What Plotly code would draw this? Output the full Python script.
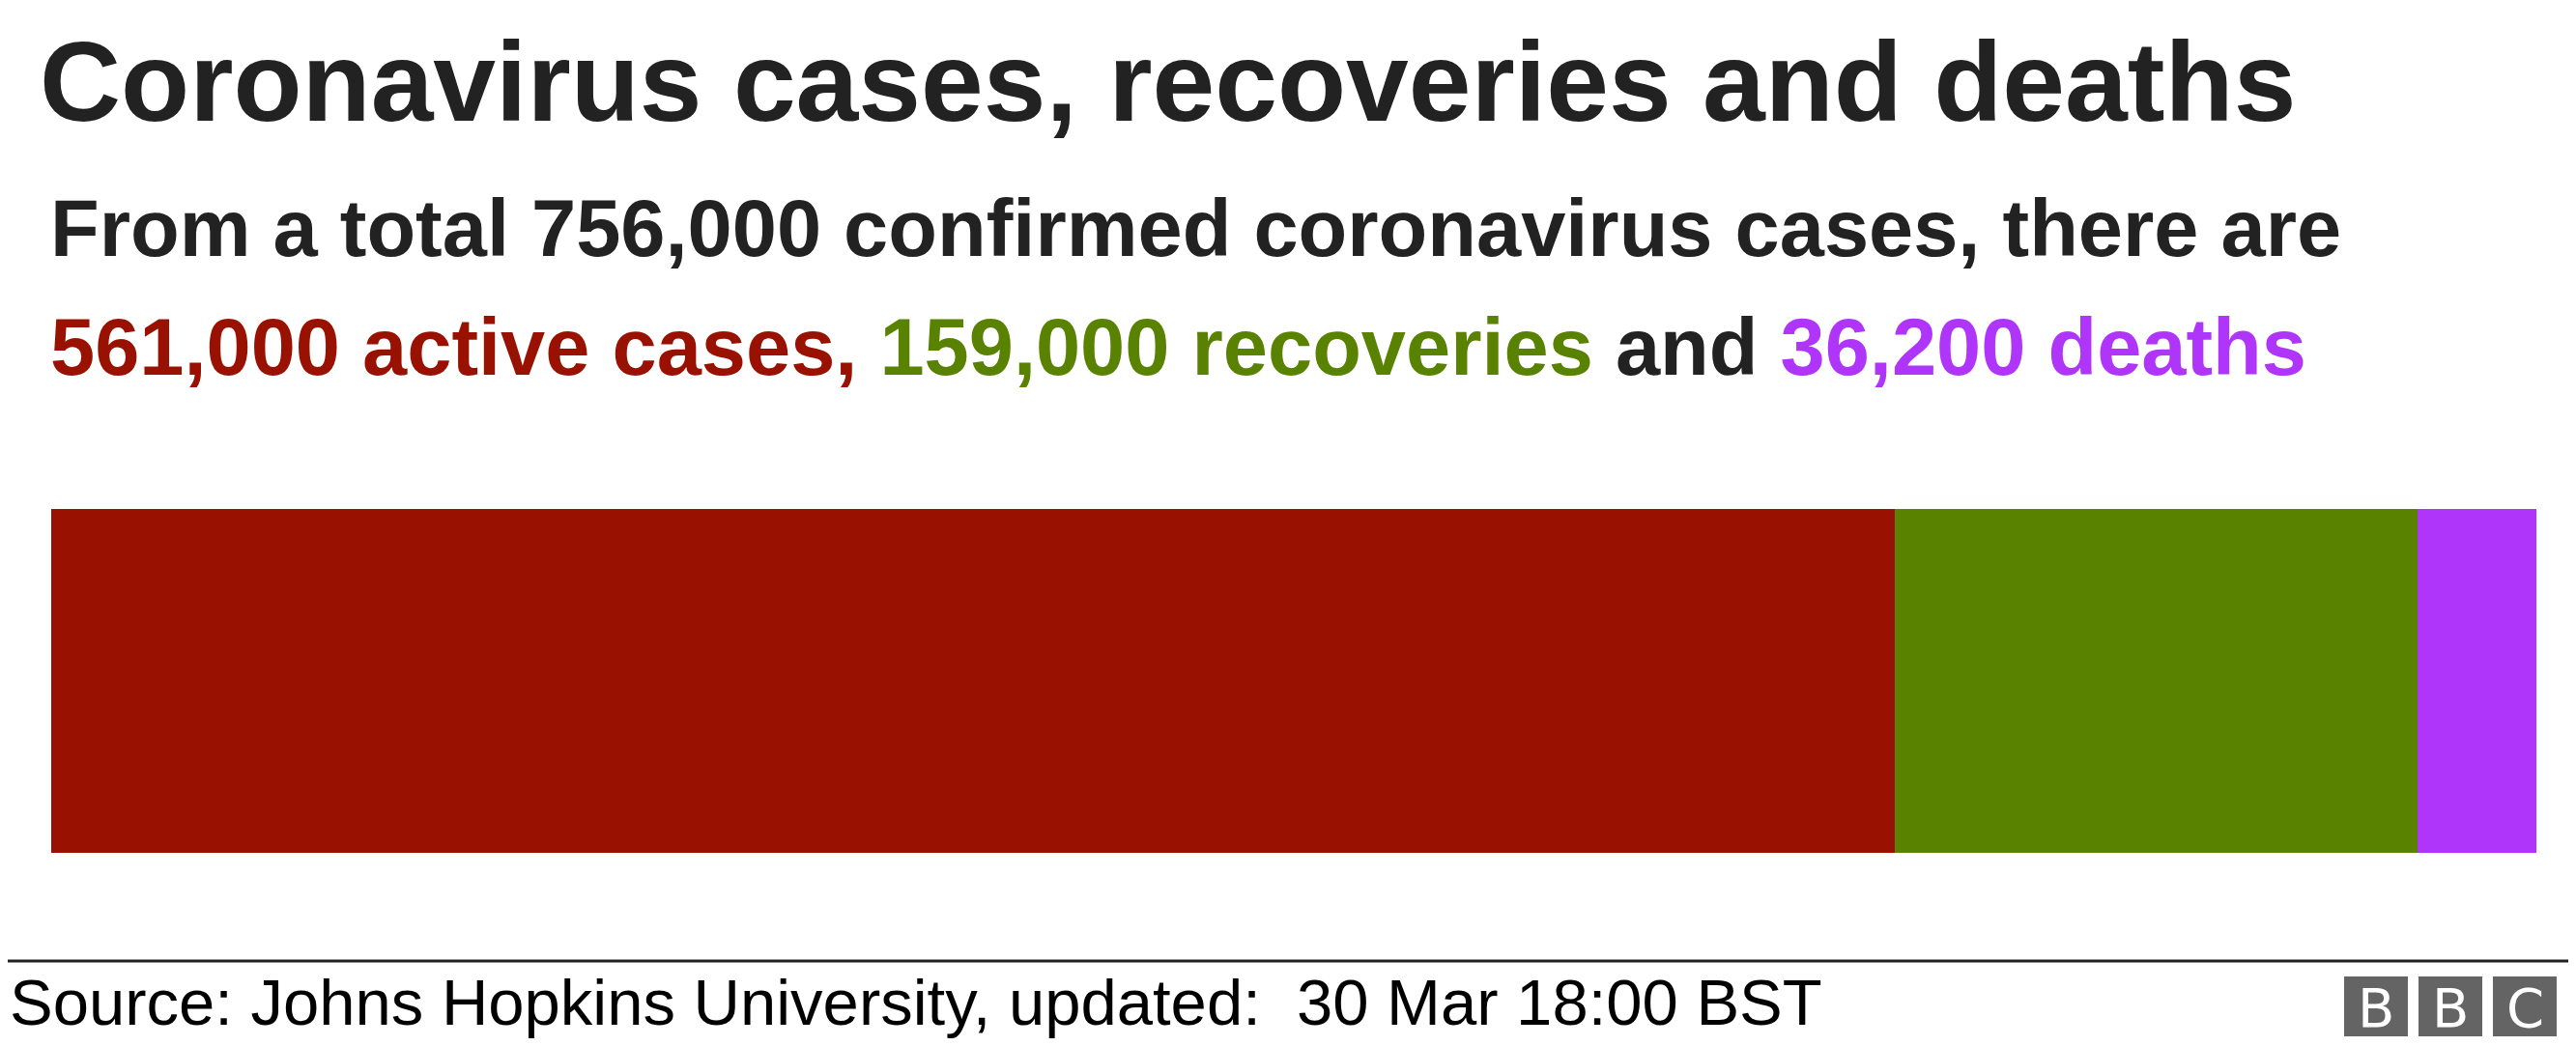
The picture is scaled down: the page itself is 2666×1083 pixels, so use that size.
import plotly.graph_objects as go

W, H = 2666, 1083
# the page body adds an 8px margin, so positions are shifted back by it
OFF = 8

categories = ["Active cases", "Recoveries", "Deaths"]
values = [561000, 159000, 36200]
colors = ["#991100", "#588200", "#b035fa"]

title = "Coronavirus cases, recoveries and deaths"
total_text = "756,000"
value_text = ["561,000", "159,000", "36,200"]
source = "Source: Johns Hopkins University, updated:  30 Mar 18:00 BST"
logo_letters = ["B", "B", "C"]

FONT = "Liberation Sans"
DARK = "#222222"


def px(x):
    return (x - OFF) / W


def py(y):
    return 1 - (y - OFF) / H


fig = go.Figure()
for cat, val, col in zip(categories, values, colors):
    fig.add_trace(
        go.Bar(
            x=[val],
            y=[""],
            orientation="h",
            name=cat,
            marker={"color": col, "line": {"width": 0}},
            width=1,
            hoverinfo="skip",
        )
    )

line2 = (
    f'<span style="color:{colors[0]}">{value_text[0]} active cases,</span> '
    f'<span style="color:{colors[1]}">{value_text[1]} recoveries</span> '
    f"and "
    f'<span style="color:{colors[2]}">{value_text[2]} deaths</span>'
)

annotations = [
    dict(text=title, x=px(39), y=py(152), size=116.4),
    dict(
        text=f"From a total {total_text} confirmed coronavirus cases, there are",
        x=px(50), y=py(285), size=83,
    ),
    dict(text=line2, x=px(50), y=py(408), size=83),
]
annots = []
for a in annotations:
    annots.append(
        dict(
            text=a["text"], x=a["x"], y=a["y"], xref="paper", yref="paper",
            xanchor="left", yanchor="bottom", showarrow=False,
            font={"family": FONT, "size": a["size"], "color": DARK, "weight": 700},
        )
    )
annots.append(
    dict(
        text=source, x=px(8), y=py(1077), xref="paper", yref="paper",
        xanchor="left", yanchor="bottom", showarrow=False,
        font={"family": FONT, "size": 67, "color": "#000000"},
    )
)

shapes = [
    dict(
        type="line", xref="paper", yref="paper", x0=px(0), x1=1, y0=py(995), y1=py(995),
        line={"color": "#222222", "width": 3},
    )
]
box_x = [2426, 2503, 2580]
for bx, letter in zip(box_x, logo_letters):
    shapes.append(
        dict(
            type="rect", xref="paper", yref="paper",
            x0=px(bx), x1=px(bx + 66), y0=py(1073), y1=py(1011),
            fillcolor="#646464", line={"width": 0},
        )
    )
    annots.append(
        dict(
            text=letter, x=px(bx + 33), y=py(1043), xref="paper", yref="paper",
            xanchor="center", yanchor="middle", showarrow=False,
            font={"family": "DejaVu Sans", "size": 56, "color": "white"},
        )
    )

fig.update_layout(
    width=W,
    height=H,
    barmode="stack",
    showlegend=False,
    paper_bgcolor="white",
    plot_bgcolor="white",
    margin={"l": 0, "r": 0, "t": 0, "b": 0},
    xaxis={
        "domain": [px(53), px(2625)],
        "range": [0, sum(values)],
        "visible": False,
        "fixedrange": True,
    },
    yaxis={
        "domain": [py(883), py(527)],
        "range": [-0.5, 0.5],
        "visible": False,
        "fixedrange": True,
    },
    annotations=annots,
    shapes=shapes,
)

fig.write_html("out.html")
